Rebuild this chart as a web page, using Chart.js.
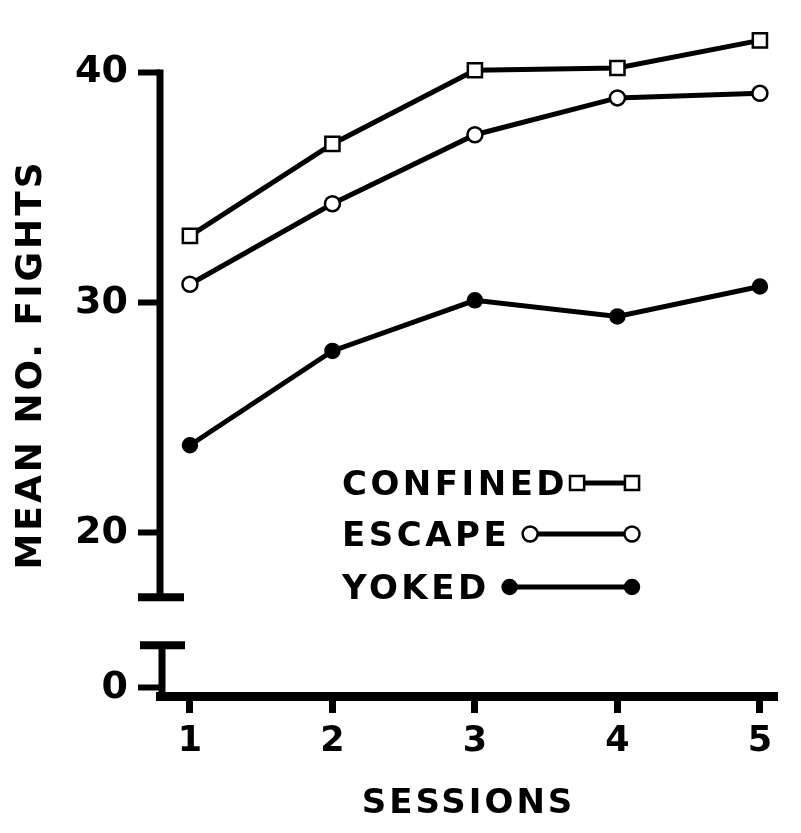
<!DOCTYPE html>
<html>
<head>
<meta charset="utf-8">
<script src="https://cdn.jsdelivr.net/npm/chart.js@4/dist/chart.umd.min.js"></script>
<style>
html, body { margin: 0; padding: 0; background: #fff; }
canvas { display: block; }
</style>
</head>
<body>
<canvas id="chart" width="801" height="833"></canvas>
<script>
// values
const sessions = [1, 2, 3, 4, 5];
const confined = [32.9, 36.9, 40.1, 40.2, 41.4];
const escape = [30.8, 34.3, 37.3, 38.9, 39.1];
const yoked = [23.8, 27.9, 30.1, 29.4, 30.7];
const seriesNames = ['CONFINED', 'ESCAPE', 'YOKED'];
const xTickLabels = ['1', '2', '3', '4', '5'];
const yTickValues = [0, 20, 30, 40];
const yTickLabels = ['0', '20', '30', '40'];

// the y axis is broken: the upper part is linear, the "0" sits just below the break
const Y_MIN = 12.9, Y_MAX = 41.73;
const ZERO_POS = 13.25;
const BREAK_LOW = 15.11, BREAK_HIGH = 17.19;

const FONT = "'DejaVu Sans', sans-serif";
Chart.defaults.font.family = FONT;
Chart.defaults.color = '#000';

function points(values) {
    return sessions.map((s, i) => ({ x: s, y: values[i] }));
}

function drawMarker(ctx, ds, x, y) {
    ctx.beginPath();
    if (ds.pointStyle === 'rect') {
        const h = ds.pointRadius * Math.SQRT1_2;
        ctx.rect(x - h, y - h, 2 * h, 2 * h);
    } else {
        ctx.arc(x, y, ds.pointRadius, 0, Math.PI * 2);
    }
    ctx.fillStyle = ds.pointBackgroundColor;
    ctx.fill();
    ctx.lineWidth = ds.pointBorderWidth;
    ctx.strokeStyle = ds.pointBorderColor;
    ctx.stroke();
}

// wide lettering for the axis titles, normal for the numbers
const spacing = {
    id: 'spacing',
    beforeDraw(chart) { chart.ctx.letterSpacing = '3px'; },
    beforeDatasetsDraw(chart) { chart.ctx.letterSpacing = '0px'; }
};

// y axis drawn in two pieces with the break caps
const brokenAxis = {
    id: 'brokenAxis',
    beforeDatasetsDraw(chart) {
        const { ctx, chartArea } = chart;
        const y = chart.scales.y;
        const x0 = chartArea.left;
        const pHigh = y.getPixelForValue(BREAK_HIGH);
        const pLow = y.getPixelForValue(BREAK_LOW);
        const seg = (a, b, c, d) => { ctx.beginPath(); ctx.moveTo(a, b); ctx.lineTo(c, d); ctx.stroke(); };
        ctx.save();
        ctx.strokeStyle = '#000';
        ctx.lineWidth = 7;
        seg(x0, y.getPixelForValue(40) - 3, x0, pHigh);
        seg(x0 + 2, pLow, x0 + 2, chartArea.bottom);
        ctx.lineWidth = 8;
        seg(x0 - 22, pHigh, x0 + 24, pHigh);
        seg(x0 - 20, pLow, x0 + 25, pLow);
        ctx.restore();
    }
};

const legendBox = { left: 342, rows: [486, 537, 590], end: 632, gaps: [9, 20, 20] };
const inlineLegend = {
    id: 'inlineLegend',
    afterDraw(chart) {
        const ctx = chart.ctx;
        ctx.save();
        ctx.letterSpacing = '3.5px';
        ctx.font = 'bold 34px ' + FONT;
        ctx.textBaseline = 'middle';
        ctx.textAlign = 'left';
        chart.data.datasets.forEach((ds, i) => {
            const yy = legendBox.rows[i];
            ctx.fillStyle = '#000';
            ctx.fillText(ds.label, legendBox.left, yy);
            const start = legendBox.left + ctx.measureText(ds.label).width + legendBox.gaps[i];
            ctx.lineWidth = ds.borderWidth;
            ctx.strokeStyle = '#000';
            ctx.beginPath();
            ctx.moveTo(start, yy - 3);
            ctx.lineTo(legendBox.end, yy - 3);
            ctx.stroke();
            drawMarker(ctx, ds, start, yy - 3);
            drawMarker(ctx, ds, legendBox.end, yy - 3);
        });
        ctx.restore();
    }
};

const common = {
    borderColor: '#000',
    borderWidth: 5,
    pointBorderColor: '#000',
    pointBorderWidth: 2.5,
    tension: 0,
    clip: false
};

new Chart(document.getElementById('chart'), {
    type: 'line',
    data: {
        datasets: [
            Object.assign({ label: seriesNames[0], data: points(confined), pointStyle: 'rect', pointRadius: 10, pointBackgroundColor: '#fff' }, common),
            Object.assign({ label: seriesNames[1], data: points(escape), pointStyle: 'circle', pointRadius: 7.5, pointBackgroundColor: '#fff' }, common),
            Object.assign({ label: seriesNames[2], data: points(yoked), pointStyle: 'circle', pointRadius: 7, pointBackgroundColor: '#000' }, common)
        ]
    },
    options: {
        responsive: false,
        animation: false,
        devicePixelRatio: 1,
        layout: { padding: { top: 30, right: 24, left: 0, bottom: 0 } },
        plugins: { legend: { display: false }, tooltip: { enabled: false } },
        scales: {
            x: {
                type: 'linear',
                min: 0.79,
                max: 5.12,
                afterFit: s => { s.height = 137; },
                afterBuildTicks: s => { s.ticks = sessions.map(v => ({ value: v })); },
                ticks: {
                    callback: (v, i) => xTickLabels[i],
                    autoSkip: false,
                    maxRotation: 0,
                    padding: 8,
                    color: '#000',
                    font: { size: 35, weight: 'bold' },
                    z: 1
                },
                grid: { drawOnChartArea: false, tickLength: 17, tickWidth: 7, tickColor: '#000' },
                border: { display: true, width: 9, color: '#000' },
                title: {
                    display: true,
                    text: 'SESSIONS',
                    color: '#000',
                    font: { size: 34, weight: 'bold' },
                    padding: { top: 0, bottom: 8 }
                }
            },
            y: {
                type: 'linear',
                min: Y_MIN,
                max: Y_MAX,
                afterFit: s => { s.width = 160; },
                afterBuildTicks: s => {
                    s.ticks = yTickValues.map(v => ({ value: v === 0 ? ZERO_POS : v }));
                },
                ticks: {
                    callback: (v, i) => yTickLabels[i],
                    autoSkip: false,
                    padding: 10,
                    color: '#000',
                    font: { size: 38, weight: 'bold' },
                    z: 1
                },
                grid: { drawOnChartArea: false, tickLength: 22, tickWidth: 6, tickColor: '#000' },
                border: { display: false },
                title: {
                    display: true,
                    text: 'MEAN NO. FIGHTS',
                    color: '#000',
                    font: { size: 36, weight: 'bold' },
                    padding: { top: 10, bottom: 0 }
                }
            }
        }
    },
    plugins: [spacing, brokenAxis, inlineLegend]
});
</script>
</body>
</html>
